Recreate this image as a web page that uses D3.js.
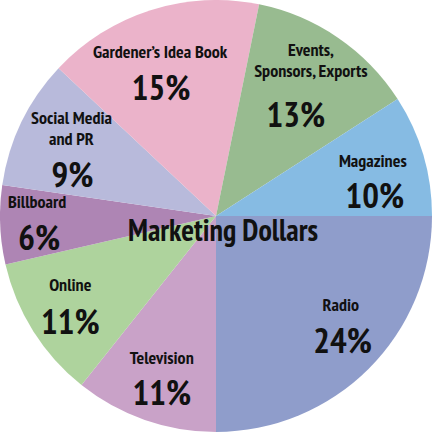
<!DOCTYPE html>
<html>
<head>
<meta charset="utf-8">
<script src="https://cdnjs.cloudflare.com/ajax/libs/d3/7.8.5/d3.min.js"></script>
<style>
  html, body { margin: 0; padding: 0; background: #fff; }
  #chart svg { display: block; }
</style>
</head>
<body>
<div id="chart"></div>
<script>
// slice order, clockwise from 3 o'clock
const categories = ["Radio", "Television", "Online", "Billboard", "Social Media and PR",
    "Gardener\u2019s Idea Book", "Events, Sponsors, Exports", "Magazines"];
// label lines as printed
const labelLines = [["Radio"], ["Television"], ["Online"], ["Billboard"], ["Social Media", "and PR"],
    ["Gardener\u2019s Idea Book"], ["Events,", "Sponsors, Exports"], ["Magazines"]];
// slice sizes (percent of the circle)
const shares = [25, 10.7, 10.7, 5.9, 9.7, 16.2, 12.7, 9.1];
// percentages as printed on the chart
const pctLabels = ["24%", "11%", "11%", "6%", "9%", "15%", "13%", "10%"];
const colors = ["#8f9dcb", "#c9a2c8", "#aed39d", "#ae85b4", "#b8badb", "#ebb3ca", "#98bb90", "#86bbe3"];
const title = "Marketing Dollars";

function init() {
    const w = 432;
    const h = 432;
    const R = 216;
    const font = "'PT Sans Narrow', 'Liberation Sans Narrow', 'Roboto Condensed', 'DejaVu Sans Condensed', sans-serif";

    // label placement: radius fraction, angle nudge (deg), x shift of name lines, gap to percent
    const labelLayout = [
        { r: 0.769, da: -4.7, ldx: -2, gap: 42 },
        { r: 0.777, da: -0.4, ldx: 0, gap: 41 },
        { r: 0.789, da: 1.0, ldx: 0, gap: 43 },
        { r: 0.819, da: 1.1, ldx: -2, gap: 42 },
        { r: 0.718, da: -3.5, ldx: -1, gap: 42 },
        { r: 0.721, da: -3.0, ldx: -1, gap: 42 },
        { r: 0.662, da: -0.4, ldx: 15, gap: 50 },
        { r: 0.756, da: 2.9, ldx: -2, gap: 41 }
    ];

    const svg = d3.select("#chart")
        .append("svg")
        .attr("width", w)
        .attr("height", h);

    const g = svg.append("g")
        .attr("transform", `translate(${w / 2},${h / 2})`);

    const pie = d3.pie()
        .sort(null)
        .value(d => d)
        .startAngle(Math.PI / 2)
        .endAngle(Math.PI / 2 + 2 * Math.PI);

    const arcs = pie(shares);
    const arc = d3.arc().innerRadius(0).outerRadius(R);

    g.selectAll("path.slice")
        .data(arcs)
        .enter()
        .append("path")
        .attr("class", "slice")
        .attr("d", arc)
        .attr("fill", (d, i) => colors[i]);

    // labels
    arcs.forEach((d, i) => {
        const lay = labelLayout[i];
        const a = (d.startAngle + d.endAngle) / 2 + lay.da * Math.PI / 180;
        const x = Math.sin(a) * R * lay.r;
        const y = -Math.cos(a) * R * lay.r;
        const lines = labelLines[i];
        const pctBase = y + 30;
        const lastBase = pctBase - lay.gap;

        lines.forEach((t, j) => {
            g.append("text")
                .attr("x", x + lay.ldx)
                .attr("y", lastBase - (lines.length - 1 - j) * 21)
                .attr("text-anchor", "middle")
                .attr("font-family", font)
                .attr("font-weight", "bold")
                .attr("font-size", "18px")
                .attr("fill", "#111")
                .text(t);
        });

        g.append("text")
            .attr("x", x)
            .attr("y", pctBase)
            .attr("text-anchor", "middle")
            .attr("font-family", font)
            .attr("font-weight", "bold")
            .attr("font-size", "35px")
            .attr("fill", "#111")
            .text(pctLabels[i]);
    });

    // title across the middle
    g.append("text")
        .attr("x", 7)
        .attr("y", 25)
        .attr("text-anchor", "middle")
        .attr("font-family", font)
        .attr("font-weight", "bold")
        .attr("font-size", "30px")
        .attr("fill", "#111")
        .text(title);
}

window.onload = init;
</script>
</body>
</html>
